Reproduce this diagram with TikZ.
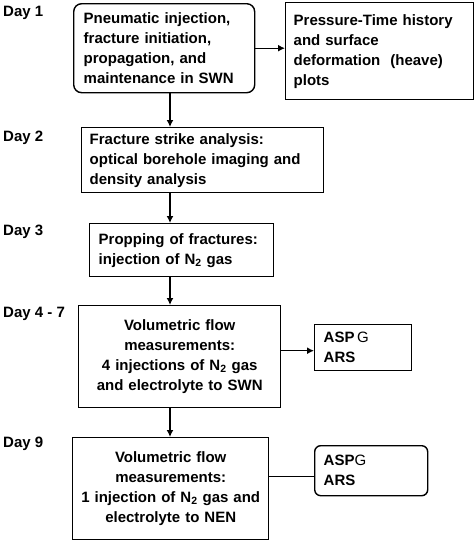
\documentclass[tikz,border=0pt]{standalone}
\usepackage{fontspec}
\setmainfont{Liberation Sans}
\usetikzlibrary{arrows.meta}
\begin{document}
\begin{tikzpicture}[x=1pt,y=-1pt,>={Latex[length=7pt,width=7pt]},
    every node/.style={font=\bfseries\fontsize{15}{20}\selectfont},
    stepbox/.style={draw, line width=1.4pt, anchor=north west, inner ysep=0pt, inner xsep=9pt, align=left},
    centerbox/.style={stepbox, align=center},
    daylabel/.style={anchor=west, inner sep=0pt},
    flow/.style={->, line width=1.4pt}]
      \useasboundingbox (0,0) rectangle (474,541);
      \coordinate (spine) at (170,0);
      % \draw[help lines,step=20] (0,0) grid (474,541);
      \node[daylabel] (d1) at (3,13) {Day 1};
      \node[daylabel] (d2) at (3,138) {Day 2};
      \node[daylabel] (d3) at (3,232) {Day 3};
      \node[daylabel] (d4) at (3,314) {Day 4 - 7};
      \node[daylabel] (d9) at (3,444) {Day 9};

      \node[stepbox, rounded corners=8pt, inner xsep=10pt, text width=161pt,
        minimum height=89pt] (inj) at (73,3)
      {Pneumatic injection,\\fracture initiation,\\propagation, and\\maintenance in SWN};
      \node[stepbox, inner xsep=8pt, text width=172pt, minimum height=97pt] (heave) at (285,2)
      {Pressure-Time history\\and surface\\deformation\ \ (heave)\\plots};
      \node[stepbox, inner xsep=8pt, text width=226pt, minimum height=65pt] (strike) at (81,127)
      {Fracture strike analysis:\\optical borehole imaging and\\density analysis};
      \node[stepbox, text width=166pt, minimum height=53pt] (prop) at (89,223)
      {Propping of fractures:\\injection of N\textsubscript{2} gas};
      \node[centerbox, text width=184pt, minimum height=102pt] (swn) at (78,305)
      {Volumetric flow\\measurements:\\4 injections of N\textsubscript{2} gas\\and electrolyte to SWN};
      \node[centerbox, inner xsep=1pt, text width=194pt, minimum height=102pt] (nen) at (72,437)
      {Volumetric flow\\measurements:\\1 injection of N\textsubscript{2} gas and\\electrolyte to NEN};
      \node[stepbox, text width=79pt, minimum height=46pt] (aspa) at (314,324)
      {ASP\,{\mdseries G}\\ARS};
      \node[stepbox, rounded corners=6pt, text width=95pt, minimum height=50pt] (aspb) at (314,445)
      {ASP{\mdseries G}\\ARS};

      \draw[flow] (inj.east) -- (heave.west |- inj.east);
      \draw[flow] (inj.south -| spine) -- (strike.north -| spine);
      \draw[flow] (strike.south -| spine) -- (prop.north -| spine);
      \draw[flow] (prop.south -| spine) -- (swn.north -| spine);
      \draw[flow] (swn.south -| spine) -- (nen.north -| spine);
      \draw[flow] ([yshift=-3pt]aspa.west -| swn.east) -- ([yshift=-3pt]aspa.west);
      \draw[line width=1.4pt] ([yshift=-6pt]aspb.west -| nen.east) -- ([yshift=-6pt]aspb.west);
\end{tikzpicture}
\end{document}
